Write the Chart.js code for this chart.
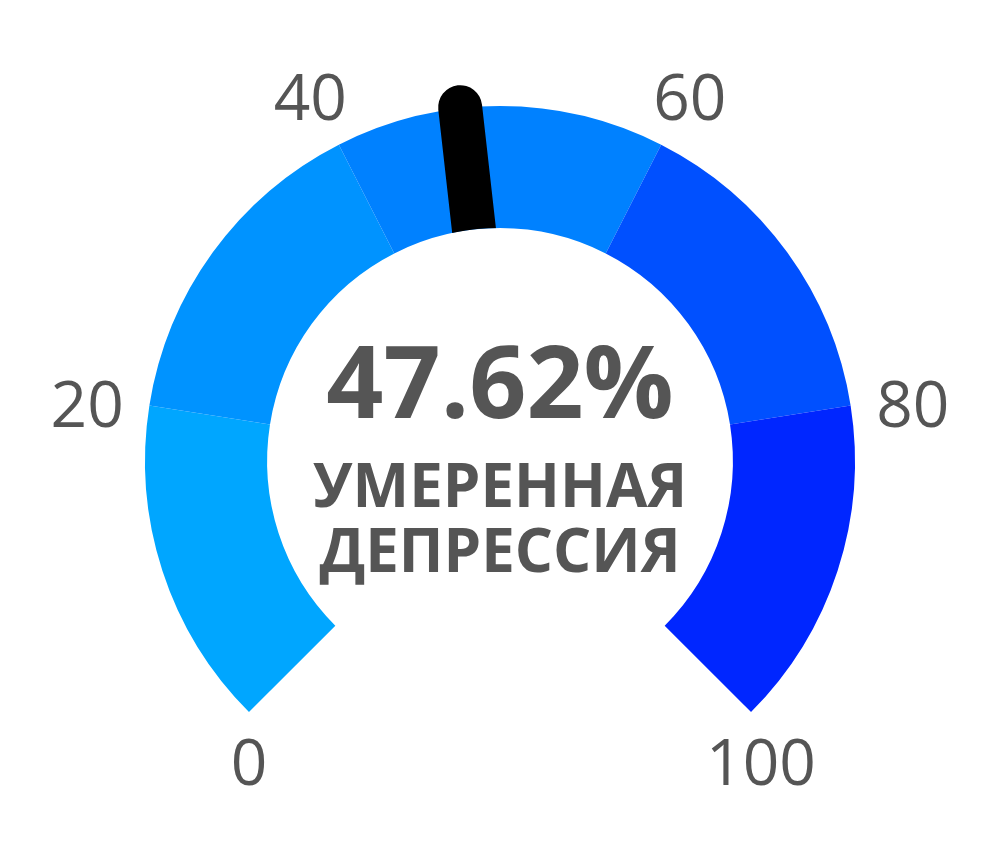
<!DOCTYPE html>
<html>
<head>
<meta charset="utf-8">
<script src="https://cdn.jsdelivr.net/npm/chart.js@4/dist/chart.umd.min.js"></script>
<style>
  html, body { margin: 0; padding: 0; background: #ffffff; }
  #wrap { width: 1000px; height: 850px; position: relative; }
</style>
</head>
<body>
<div id="wrap"><canvas id="c" width="1000" height="850"></canvas></div>
<script>
// ---- data ----
const tickValues = [0, 20, 40, 60, 80, 100];
const tickLabels = ['0', '20', '40', '60', '80', '100'];
const bandColors = ['#00A6FF', '#0093FF', '#0081FF', '#0050FF', '#0026FF'];
const gaugeValue = 47.62;
const valueLabel = '47.62%';
const categoryLines = ['УМЕРЕННАЯ', 'ДЕПРЕССИЯ'];

const bandSizes = tickValues.slice(1).map((v, i) => v - tickValues[i]);
const minV = tickValues[0], maxV = tickValues[tickValues.length - 1];

const ROT = -135, CIRC = 270;
const TEXT = '#555555';

function angleFor(v) {
  // canvas angle (radians, y down), same convention Chart.js uses for arcs
  return (ROT - 90 + CIRC * (v - minV) / (maxV - minV)) * Math.PI / 180;
}

const gaugePlugin = {
  id: 'gauge',
  afterDatasetsDraw(chart) {
    const arc = chart.getDatasetMeta(0).data[0];
    const cx = arc.x, cy = arc.y;
    const R = arc.outerRadius, r = arc.innerRadius;
    const ctx = chart.ctx;

    // needle
    const a = angleFor(gaugeValue);
    ctx.save();
    ctx.beginPath();
    ctx.rect(0, 0, chart.width, chart.height);
    ctx.arc(cx, cy, r, 0, Math.PI * 2, true);
    ctx.clip('evenodd');
    ctx.strokeStyle = '#000000';
    ctx.lineWidth = 44;
    ctx.lineCap = 'round';
    ctx.beginPath();
    ctx.moveTo(cx + (r - 40) * Math.cos(a), cy + (r - 40) * Math.sin(a));
    ctx.lineTo(cx + (R + 1) * Math.cos(a), cy + (R + 1) * Math.sin(a));
    ctx.stroke();
    ctx.restore();

    // tick labels
    ctx.save();
    ctx.fillStyle = TEXT;
    ctx.font = '64px "Open Sans"';
    ctx.textAlign = 'center';
    ctx.textBaseline = 'alphabetic';
    const capHalf = 64 * 0.357;
    tickValues.forEach((v, i) => {
      const t = angleFor(v);
      let x, y;
      if (v === minV || v === maxV) {
        x = cx + R * Math.cos(t) + (v === maxV ? 10 : 0);
        y = cy + R * Math.sin(t) + 50;
      } else {
        x = cx + 418 * Math.cos(t);
        y = cy + 418 * Math.sin(t) + 9;
      }
      ctx.fillText(tickLabels[i], x, y + capHalf);
    });

    // center text
    ctx.font = 'bold 100px "Open Sans"';
    ctx.fillText(valueLabel, cx, cy - 43);
    ctx.font = 'bold 60px "Open Sans"';
    categoryLines.forEach((line, i) => {
      ctx.fillText(line, cx, cy + 46 + i * 65);
    });
    ctx.restore();
  }
};

new Chart(document.getElementById('c'), {
  type: 'doughnut',
  data: {
    labels: tickValues.slice(1).map((v, i) => tickValues[i] + '–' + v),
    datasets: [{
      data: bandSizes,
      backgroundColor: bandColors,
      borderWidth: 0,
      hoverOffset: 0
    }]
  },
  options: {
    responsive: false,
    animation: false,
    events: [],
    rotation: ROT,
    circumference: CIRC,
    cutout: '65.6%',
    layout: { padding: { left: 145, right: 145, top: 106, bottom: 138 } },
    plugins: { legend: { display: false }, tooltip: { enabled: false } }
  },
  plugins: [gaugePlugin]
});
</script>
</body>
</html>
